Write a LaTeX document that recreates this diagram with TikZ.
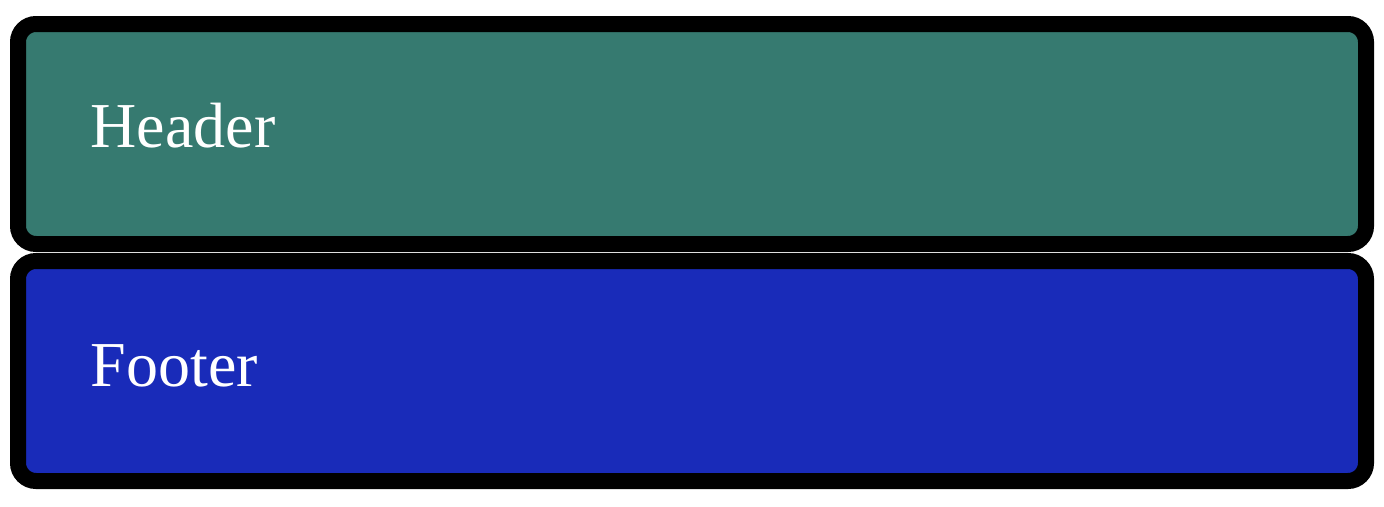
\documentclass[tikz,border=0pt]{standalone}
\usepackage{fontspec}
\setmainfont{Liberation Serif}
\usetikzlibrary{positioning}
\definecolor{headerteal}{RGB}{54,122,112}
\definecolor{footerblue}{RGB}{25,43,185}

\begin{document}
\begin{tikzpicture} [x=1pt, y=-1pt,
  panel/.style={draw=black, line width=16pt, rounded corners=18pt, minimum width=1348pt, minimum height=220pt, inner sep=0pt},
  paneltext/.style={text=white, inner sep=0pt, anchor=base west, font=\fontsize{64}{70}\selectfont}]
\useasboundingbox (0,0) rectangle (1384,506);
\node[panel, fill=headerteal] (header) at (692,134) {};
\node[panel, fill=footerblue] (footer) at (692,371) {};
\node[paneltext] (headerlabel) at (90.5,147) {Header};
\node[paneltext] (footerlabel) at (90.5,386.5) {Footer};
\end{tikzpicture}
\end{document}
